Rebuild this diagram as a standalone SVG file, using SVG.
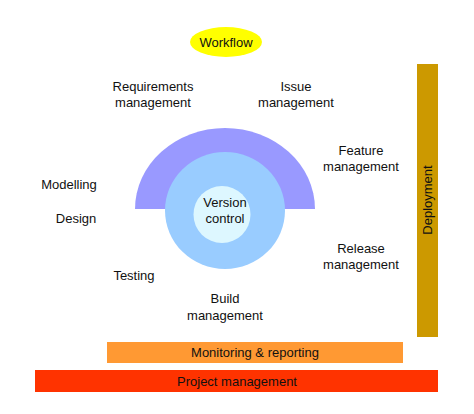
<svg xmlns="http://www.w3.org/2000/svg" width="474" height="414" viewBox="0 0 474 414">
<style>
text{font-family:"Liberation Sans",Arial,sans-serif;font-size:13px;fill:#111;text-anchor:middle}
</style>
<rect width="474" height="414" fill="#fff"/>
<g id="workflow"><ellipse cx="226" cy="42" rx="36" ry="15" fill="#ffff00"/><text x="226" y="46.5">Workflow</text></g>
<g id="version-rings">
<path d="M135,209 A90,81 0 0 1 315,209 Z" fill="#9999ff"/>
<ellipse cx="225" cy="210.5" rx="60" ry="58.5" fill="#99ccff"/>
<circle cx="222" cy="214.5" r="28.5" fill="#ddf7ff"/>
<text x="225" y="207">Version</text><text x="225" y="222.5">control</text>
</g>
<g id="requirements"><text x="153" y="91">Requirements</text><text x="153" y="107">management</text></g>
<g id="issue"><text x="296" y="91">Issue</text><text x="296" y="107">management</text></g>
<g id="feature"><text x="361" y="155">Feature</text><text x="361" y="171">management</text></g>
<g id="modelling"><text x="69" y="189">Modelling</text></g>
<g id="design"><text x="76" y="223">Design</text></g>
<g id="release"><text x="361" y="253">Release</text><text x="361" y="268.5">management</text></g>
<g id="testing"><text x="134" y="280">Testing</text></g>
<g id="build"><text x="225" y="303">Build</text><text x="225" y="320">management</text></g>
<g id="deployment"><rect x="417" y="64" width="21" height="273" fill="#cc9900"/><text transform="translate(432,200) rotate(-90)">Deployment</text></g>
<g id="monitoring"><rect x="107" y="342" width="296" height="21" fill="#ff9933"/><text x="255" y="357">Monitoring &amp; reporting</text></g>
<g id="project"><rect x="35" y="370" width="403" height="22" fill="#ff3300"/><text x="237" y="385.5">Project management</text></g>
<g id="connectors"/>
</svg>
